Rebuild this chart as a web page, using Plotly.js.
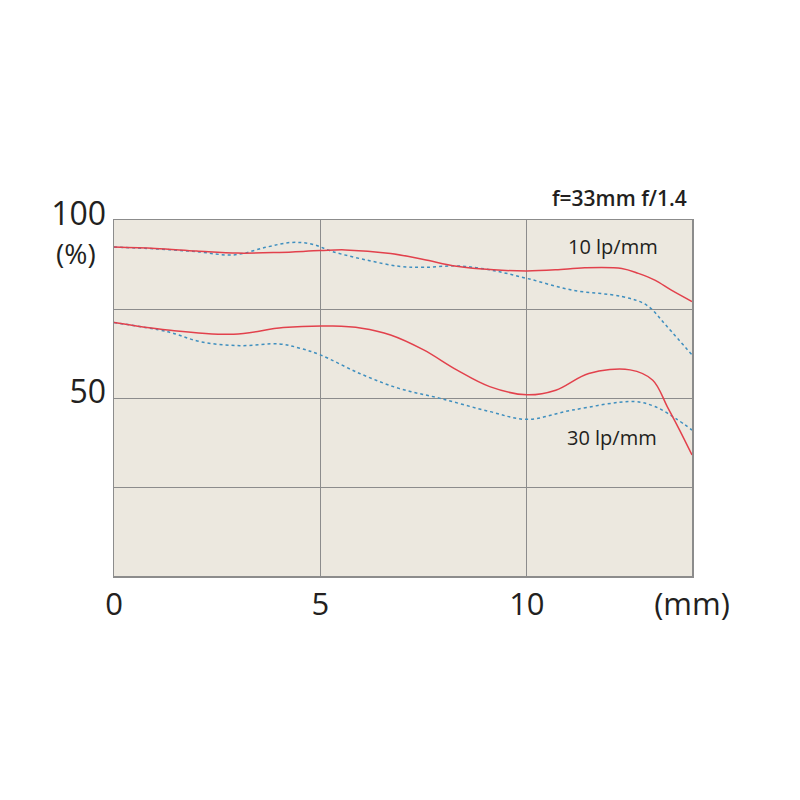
<!DOCTYPE html>
<html>
<head>
<meta charset="utf-8">
<script src="https://cdn.plot.ly/plotly-3.0.1.min.js"></script>
<style>html,body{margin:0;padding:0;background:#fff;}#chart{width:800px;height:800px;}</style>
</head>
<body>
<div id="chart"></div>
<script>
// Image height (mm) vs contrast (%)
const x10S = [0, 1, 2, 3, 4, 5, 5.6, 6.7, 7.5, 8.3, 9.2, 10, 10.7, 11.4, 12.3, 12.7, 13.1, 13.5, 14];
const y10S = [92.4, 92.0, 91.3, 90.7, 90.9, 91.4, 91.6, 90.6, 88.9, 87.0, 86.0, 85.7, 86.0, 86.6, 86.4, 85.0, 83.1, 80.3, 77.1];

const x10M = [0, 1, 2, 2.9, 3.7, 4.3, 4.8, 5.3, 6.1, 6.9, 7.5, 8.3, 9.1, 10, 11.1, 12.3, 12.9, 13.4, 14];
const y10M = [92.4, 91.9, 91.1, 90.2, 92.4, 93.7, 93.2, 91.1, 88.8, 87.0, 86.7, 87.1, 86.0, 83.6, 80.3, 78.5, 76.1, 70.0, 62.1];

const x30S = [0, 1.3, 2.9, 4.1, 5.3, 6.0, 6.7, 7.5, 8.3, 9.1, 10, 10.7, 11.5, 12.5, 13.05, 13.4, 13.7, 14];
const y30S = [71.2, 69.1, 67.9, 69.8, 70.2, 69.6, 67.7, 63.5, 57.9, 53.2, 50.9, 52.2, 56.9, 57.9, 55.0, 47.6, 41.0, 34.0];

const x30M = [0, 1.3, 2.1, 3.05, 4.0, 4.5, 5.0, 5.95, 6.9, 7.9, 9.1, 10, 11.1, 12.6, 13.1, 13.6, 14];
const y30M = [71.2, 68.6, 65.8, 64.7, 65.2, 64.0, 62.1, 56.9, 52.7, 49.9, 46.2, 44.0, 46.6, 49.0, 47.6, 44.3, 41.0];

const xTickVals = [0, 5, 10, 14];
const xTickText = ['0', '5', '10', '(mm)'];
const yTickVals = [0, 25, 50, 75, 100];
const yTickText = ['', '', '50', '', '100'];

const titleText = 'f=33mm f/1.4';
const label10 = '10 lp/mm';
const label30 = '30 lp/mm';
const unitY = '(%)';

const RED = '#e2414c';
const BLUE = '#3f8fbf';
const solid = {color: RED, width: 1.5, shape: 'spline', smoothing: 1};
const dotted = {color: BLUE, width: 1.5, dash: 'dot', shape: 'spline', smoothing: 1};

const traces = [
  {x: x10M, y: y10M, mode: 'lines', line: dotted, hoverinfo: 'skip'},
  {x: x30M, y: y30M, mode: 'lines', line: dotted, hoverinfo: 'skip'},
  {x: x10S, y: y10S, mode: 'lines', line: solid, hoverinfo: 'skip'},
  {x: x30S, y: y30S, mode: 'lines', line: solid, hoverinfo: 'skip'}
];

const FONT = 'Open Sans, Noto Sans, sans-serif';
const layout = {
  width: 800, height: 800,
  margin: {l: 114, r: 108, t: 220, b: 224},
  paper_bgcolor: '#ffffff',
  plot_bgcolor: '#ece8df',
  showlegend: false,
  font: {family: FONT, color: '#231f20'},
  xaxis: {
    range: [0, 14], tickvals: xTickVals, ticktext: xTickText,
    showgrid: true, gridcolor: '#8c8c8c', gridwidth: 1,
    showline: true, mirror: true, linecolor: '#8c8c8c', linewidth: 1.5,
    zeroline: false, ticks: '', fixedrange: true,
    tickfont: {family: FONT, size: 31, color: '#231f20'}
  },
  yaxis: {
    range: [0, 100], tickvals: yTickVals, ticktext: yTickText,
    showgrid: true, gridcolor: '#8c8c8c', gridwidth: 1,
    showline: true, mirror: true, linecolor: '#8c8c8c', linewidth: 1.5,
    zeroline: false, ticks: '', fixedrange: true, ticklabelshift: -6,
    tickfont: {family: FONT, size: 32, color: '#231f20'}
  },
  annotations: [
    {text: titleText, xref: 'paper', yref: 'paper', x: 0.994, y: 1.0, xanchor: 'right', yanchor: 'bottom', yshift: 6,
     showarrow: false, font: {family: FONT, size: 21, weight: 600, color: '#231f20'}},
    {text: label10, xref: 'x', yref: 'y', x: 12.08, y: 92.5, xanchor: 'center', yanchor: 'middle',
     showarrow: false, font: {family: FONT, size: 20, color: '#231f20'}},
    {text: label30, xref: 'x', yref: 'y', x: 12.06, y: 38.9, xanchor: 'center', yanchor: 'middle',
     showarrow: false, font: {family: FONT, size: 20, color: '#231f20'}},
    {text: unitY, xref: 'paper', yref: 'y', x: -0.066, y: 90.8, xanchor: 'center', yanchor: 'middle',
     showarrow: false, font: {family: FONT, size: 28, color: '#231f20'}}
  ]
};

Plotly.newPlot('chart', traces, layout, {displayModeBar: false, staticPlot: true});
</script>
</body>
</html>
